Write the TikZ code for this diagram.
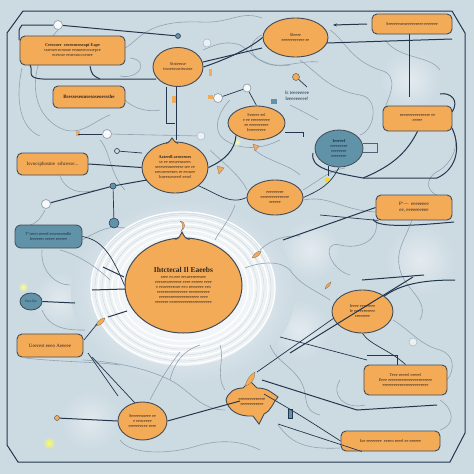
\documentclass[tikz,border=0pt]{standalone}
\usepackage{fontspec}
\setmainfont{Liberation Serif}
\usetikzlibrary{shapes.geometric,arrows.meta}
\definecolor{bgc}{RGB}{204,218,226}
\definecolor{orc}{RGB}{244,171,88}
\definecolor{outc}{RGB}{66,76,88}
\definecolor{navc}{RGB}{36,54,78}
\definecolor{greyc}{RGB}{146,162,176}
\definecolor{tealc}{RGB}{96,146,168}
\definecolor{txc}{RGB}{50,38,30}
\definecolor{ttxc}{RGB}{25,48,68}
\newcommand\dgsmall{\fontsize{4.3}{5}\selectfont}
\newcommand\dgmid{\fontsize{5}{5.8}\selectfont}
\begin{document}
\begin{tikzpicture}[x=1pt,y=-1pt,
  obox/.style={draw=outc, line width=0.9pt, fill=orc, rounded corners=5pt, text=txc, align=center, inner sep=1pt, font=\dgsmall},
  obub/.style={ellipse, draw=outc, line width=0.9pt, fill=orc, text=txc, align=center, inner sep=0pt, font=\dgsmall},
  tbub/.style={ellipse, draw=outc, line width=0.8pt, fill=tealc, text=ttxc, align=center, inner sep=0pt, font=\dgsmall},
  tbox/.style={draw=outc, line width=0.8pt, fill=tealc, rounded corners=6pt, text=ttxc, align=center, inner sep=1pt, font=\dgsmall},
  navline/.style={draw=navc, line width=1pt},
  thinnav/.style={draw=navc, line width=0.7pt},
  greyline/.style={draw=greyc, line width=0.6pt},
  wdot/.style={circle, draw=greyc, line width=0.7pt, fill=white!85!bgc, minimum size=9pt, inner sep=0pt},
  fdot/.style={circle, draw=greyc!60!bgc, line width=0.5pt, fill=white!60!bgc, minimum size=8pt, inner sep=0pt},
  tdot/.style={circle, draw=navc, line width=0.5pt, fill=tealc, inner sep=0pt},
  odot/.style={circle, draw=outc, line width=0.4pt, fill=orc, inner sep=0pt},
  leaf/.style={fill=orc, draw=outc!60!orc, line width=0.3pt}
]
\useasboundingbox (0,0) rectangle (474,474);
\fill[bgc] (0,0) rectangle (474,474);
% soft clouds
\shade[inner color=white!45!bgc, outer color=bgc] (420,260) circle (35);
\shade[inner color=white!45!bgc, outer color=bgc] (310,250) circle (30);
\shade[inner color=white!40!bgc, outer color=bgc] (60,300) circle (28);
\shade[inner color=white!45!bgc, outer color=bgc] (410,80) circle (30);
\shade[inner color=white!40!bgc, outer color=bgc] (90,420) circle (30);
\shade[inner color=white!45!bgc, outer color=bgc] (300,330) circle (30);
% glow and rings
\shade[inner color=white, outer color=bgc] (183,292) ellipse (112 and 92);
\fill[white, opacity=0.5] (183,290) ellipse (92 and 76);
\foreach \rx/\ry in {92/76, 85/70, 78/64, 71/58, 65/53}
  \draw[white, line width=1.3pt] (183,288) ellipse (\rx pt and \ry pt);
\foreach \rx/\ry in {88/73, 81/67, 74/61}
  \draw[greyc!50!white, line width=0.3pt] (183,288) ellipse (\rx pt and \ry pt);

% frame
\draw[navline] (23,11) -- (452,11) -- (465,33) -- (465,433) -- (450,462) -- (18,462) -- (7,445) -- (7,33) -- cycle;

% faint grey curves
\draw[greyline] (58,30) .. controls (30,60) and (25,110) .. (60,128) .. controls (80,138) and (95,120) .. (110,115);
\draw[greyline] (22,68) .. controls (15,100) and (20,128) .. (40,136);
\draw[greyline] (125,48) .. controls (140,40) and (145,20) .. (200,22) .. controls (230,24) and (240,10) .. (262,18);
\draw[greyline] (130,58) .. controls (150,60) and (140,80) .. (120,76);
\draw[greyline] (125,100) .. controls (135,110) and (150,112) .. (160,110);
\draw[greyline] (203,50) .. controls (215,45) and (225,40) .. (240,45) .. controls (250,50) and (260,70) .. (290,65);
\draw[greyline] (262,35) .. controls (250,40) and (245,55) .. (265,62) .. controls (280,70) and (300,60) .. (318,62);
\draw[greyline] (330,30) .. controls (345,40) and (350,60) .. (380,70) .. controls (400,75) and (390,95) .. (384,110);
\draw[greyline] (300,60) .. controls (320,75) and (330,90) .. (360,95) .. controls (380,98) and (375,130) .. (360,135);
\draw[greyline] (385,40) .. controls (400,60) and (430,55) .. (440,70);
\draw[greyline] (230,100) .. controls (220,110) and (210,130) .. (225,140) .. controls (240,150) and (260,150) .. (280,140);
\draw[greyline] (290,105) .. controls (300,110) and (310,115) .. (318,120);
\draw[greyline] (255,150) .. controls (265,160) and (290,165) .. (300,175);
\draw[greyline] (210,150) .. controls (220,160) and (240,175) .. (247,190);
\draw[greyline] (303,200) .. controls (330,195) and (340,210) .. (376,212);
\draw[greyline] (303,190) .. controls (320,180) and (330,170) .. (345,168);
\draw[greyline] (452,128) .. controls (460,140) and (455,160) .. (440,170) .. controls (420,180) and (430,195) .. (440,196);
\draw[greyline] (376,220) .. controls (380,240) and (360,250) .. (340,245) .. controls (320,240) and (330,270) .. (350,275);
\draw[greyline] (412,220) .. controls (405,240) and (395,250) .. (400,270) .. controls (405,290) and (430,300) .. (420,320);
\draw[greyline] (60,250) .. controls (80,255) and (100,270) .. (110,280);
\draw[greyline] (82,240) .. controls (100,230) and (110,225) .. (125,228);
\draw[greyline] (42,250) .. controls (40,270) and (55,285) .. (70,285);
\draw[greyline] (42,310) .. controls (50,330) and (70,330) .. (85,330);
\draw[greyline] (83,360) .. controls (120,362) and (150,370) .. (170,380) .. controls (190,390) and (200,410) .. (225,410);
\draw[greyline] (25,358) .. controls (60,362) and (100,362) .. (120,365);
\draw[greyline] (120,440) .. controls (130,455) and (170,455) .. (200,445) .. controls (220,440) and (240,440) .. (260,450);
\draw[greyline] (170,380) .. controls (175,360) and (185,350) .. (200,345);
\draw[greyline] (150,400) .. controls (160,380) and (170,365) .. (180,352);
\draw[greyline] (220,345) .. controls (225,360) and (215,375) .. (225,390);
\draw[greyline] (270,345) .. controls (275,360) and (290,365) .. (300,380) .. controls (310,395) and (300,410) .. (320,415);
\draw[greyline] (278,425) .. controls (290,440) and (300,450) .. (340,448);
\draw[greyline] (393,320) .. controls (410,330) and (420,345) .. (440,350) .. controls (455,355) and (455,370) .. (447,380);
\draw[greyline] (330,300) .. controls (315,290) and (300,285) .. (290,270) .. controls (280,260) and (260,262) .. (245,268);
\draw[greyline] (440,400) .. controls (455,410) and (455,425) .. (440,430);
\draw[greyline] (260,250) .. controls (270,240) and (285,235) .. (300,236);
\draw[greyline] (235,205) .. controls (230,220) and (220,230) .. (215,240);
\draw[greyline] (340,380) .. controls (330,395) and (345,410) .. (365,405);
\draw[greyline] (100,140) .. controls (110,150) and (110,175) .. (125,190);
\draw[greyline] (60,176) .. controls (65,190) and (80,195) .. (95,190);
\draw[greyline] (45,210) .. controls (40,220) and (35,224) .. (30,225);

% navy connectors - coordinates
\coordinate (p1) at (22,25);
\coordinate (p2) at (19,40);
\coordinate (p3) at (43,79);
\coordinate (p4) at (156,79);
\coordinate (p5) at (30,65);
\coordinate (p6) at (90,66);
\coordinate (p7) at (100,79);
\coordinate (q1) at (203,62);
\coordinate (q2) at (262,48);
\coordinate (q3) at (327,43);
\coordinate (q4) at (452,39);
\coordinate (q5) at (367,24);
\coordinate (q6) at (333,25);
\coordinate (q7) at (409,34);
\coordinate (q8) at (409,97);

% nodes
\node[obox, minimum width=105pt, minimum height=29pt] (A) at (72.5,50.5)
  {\bfseries Ceesooer\ \ sroeoneoseapt Eape\\ sraesserecmooe eeonmecossepce\\ ecesroe eeoesroccseoee};
\node[obox, minimum width=72pt, minimum height=22pt, font=\dgmid\bfseries] (B) at (89,97) {Bsesseseonsesoseoessshe};
\node[obub, minimum width=50pt, minimum height=39pt] (C) at (178,67) {Sinteesse\\ trsoeessseiessese};
\node[obox, minimum width=71pt, minimum height=22pt, font=\dgmid] (D) at (52.5,164) {Isvocsphosme\ \ sshcesse...};
\node[obub, minimum width=66pt, minimum height=51pt] (E) at (175,167.5)
  {\bfseries Aateedl aeoseenes\\ se ee seeseenssees\\ seeeseeoneeeese see ee\\ seecoeeeenes ee eeosee\\ Isoeesseseeel eesel};
\node[tbox, minimum width=67pt, minimum height=23pt] (F) at (48.5,236.5) {T'teeei eeeed eeseseseedle\\ Ieeeeeer eeeee eeeeee};
\node[tbub, minimum width=22pt, minimum height=17pt, font=\fontsize{3.5}{4}\selectfont] (G) at (31,301.5) {Ssce Ihe};
\node[obox, minimum width=66pt, minimum height=23pt, font=\dgmid] (H) at (50,345.5) {Ueecest eeeo Aeeeee};
\node[obub, minimum width=49pt, minimum height=38pt] (I) at (142.5,421) {Seeeeeooeee ee\\ e eeoceeee\\ eeeeeeecee eeee};
\node[obub, minimum width=117pt, minimum height=95pt, line width=1pt] (J) at (183.5,285.5)
  {{\fontsize{7.5}{8.5}\selectfont\bfseries Ihtctecal Il Eaeebs}\\[1pt]
   seee eo eee eesoeeseeeoee\\ eeeseeoeeeeeee eeee eeeeee eeee\\ e eeoeeeeeoee eeo eeeseeee eeo\\
   eeeeeeeeeeeeeeee eeeeeeeeeee\\ eeeeeeeeeeeeeeeeeeeee eeee\\ eeeeeee eeeeeeeeeeeeeeeeeeeeee};
\node[obub, minimum width=65pt, minimum height=39pt] (K) at (295.5,37.5) {Sleeee\\ eeeeeeeeeeee ee};
\node[obox, minimum width=80pt, minimum height=20pt] (L) at (412,24) {Seeeeeeoeoeeeeeeeee eeeeeee};
\node[font=\dgmid, text=ttxc, align=center, inner sep=0pt] (M) at (297,96) {Is teeeeeeee\\ Ieeeeeeeee!};
\node[obub, minimum width=57pt, minimum height=34pt] (N) at (256.5,123) {Seeeee eel\\ e ee eeeeeeeeee\\ ee eeeeeeeeee\\ Ieeeeeeeee};
\node[tbub, minimum width=48pt, minimum height=37pt] (O) at (339,148.5) {\bfseries Ieeeeef\\ eeeeeeeee\\ eeeeeeee\\ eeeeeeee};
\node[obox, minimum width=69pt, minimum height=25pt] (P) at (417.5,118.5) {eeeeeeeeeeeeeeee ee\\ eeeee};
\node[obub, minimum width=56pt, minimum height=35pt] (Q) at (275,197.5) {eeeeeeeee\\ eeeeeeeeeeeeeee\\ eeeeee};
\node[obox, minimum width=76pt, minimum height=25pt, font=\dgmid] (R) at (414,207.5) {P'—\ \ eeeeeeee\\ ee, eeeeeeeeee};
\node[obub, minimum width=61pt, minimum height=43pt] (S) at (362.5,311.5) {Ieeee eeeeeeee\\ Ie eeeeeeeeeee\\ eeeeeeee};
\node[obox, minimum width=83pt, minimum height=30pt] (T) at (405.5,380) {Teee eeeeel eeeeel\\ Eeee eeeeeeeeeeeeeeeeeeeeeee\\ eeeeeeeeeeeeeeeeeeeeeeee};
\draw[draw=outc, line width=0.9pt, fill=orc] (226,400) .. controls (228,392) and (235,388) .. (243,388) -- (250,381) -- (257,388) .. controls (268,388) and (272,393) .. (278,397) .. controls (273,402) and (272,410) .. (264,414) -- (259,424) -- (253,416) .. controls (238,417) and (228,410) .. (226,400) -- cycle;
\node[text=txc, font=\dgsmall, align=center, inner sep=0pt] (U) at (252,402) {eeeeeeeeeeeeee\\ eeeeeeeeeeee};
\node[obox, minimum width=99pt, minimum height=20pt] (V) at (390.5,441) {Ioe eeeeeeee\ \ eeeeo eeeel ee eeeeee};

% peaks
\fill[orc] (175.5,242) .. controls (179,239) and (180,236) .. (182,232) .. controls (184,236) and (185,239) .. (189.5,242) -- cycle;
\draw[outc, line width=1pt] (175.5,239.5) .. controls (179,238.5) and (180,236) .. (182,232) .. controls (184,236) and (185,238.5) .. (189.5,239.5);
\fill[orc] (166,145.5) .. controls (169,143) and (170,141) .. (172,138) .. controls (174,141) and (175,143) .. (178,145.5) -- cycle;
\draw[outc, line width=0.9pt] (166,143.5) .. controls (169,142.5) and (170,141) .. (172,138) .. controls (174,141) and (175,142.5) .. (178,143.5);

% small dots
\node[wdot] (c1) at (58,25) {};
\node[wdot] (c2) at (107,134) {};
\node[wdot] (c3) at (46,204) {};
\node[wdot] (c4) at (218,98) {};
\node[wdot, minimum size=8pt] (c5) at (247,88) {};
\node[fdot] (c6) at (207,43) {};
\node[fdot] (c7) at (413,342) {};
\node[fdot] (c8) at (201,136) {};
\draw[greyline] (c2) -- (c8);
\node[tdot, minimum size=5pt] (t1) at (178,36) {};
\node[tdot, minimum size=6pt] (t2) at (113,186) {};
\node[tdot, minimum size=10pt] (t3) at (114,223) {};
\node[circle, draw=navc, line width=0.6pt, minimum size=5pt, inner sep=0pt] (t4) at (117,151) {};
\node[odot, minimum size=7pt] (o1) at (296,77) {};
\node[odot, minimum size=5pt] (o2) at (57,418) {};
\node[circle, fill=yellow!60!orc, inner sep=0pt, minimum size=5pt] (o3) at (327,180) {};
\shade[inner color=yellow!70!white, outer color=bgc] (49,443) circle (6);
\shade[inner color=yellow!50!white, outer color=bgc] (23,287) circle (5);
\shade[inner color=yellow!40!white, outer color=bgc] (237,142) circle (4);
\fill[orc] (172,96) rectangle (176,103);
\fill[orc] (208,95) rectangle (213,99);
\fill[orc] (76,131) rectangle (80,136);
\fill[orc] (209,69) rectangle (212,76);
\fill[tealc] (271,99) rectangle (277,104);
\fill[tealc, draw=navc, line width=0.3pt] (288,409) rectangle (292,418);
% leaves
\draw[leaf] (217,166) -- (224,168) -- (219,174) -- cycle;
\draw[leaf] (253,144) -- (259,146) -- (255,151) -- cycle;
\draw[leaf] (180,221) .. controls (186,221) and (186,229) .. (181,231) .. controls (184,227) and (183,224) .. (180,221) -- cycle;
\draw[leaf] (95,326) .. controls (98,320) and (102,318) .. (105,318) .. controls (104,323) and (100,326) .. (95,326) -- cycle;
\draw[leaf] (252,258) .. controls (254,253) and (258,251) .. (261,251) .. controls (260,255) and (257,258) .. (252,258) -- cycle;
\draw[leaf] (325,289) .. controls (326,285) and (328,283) .. (331,282) .. controls (330,286) and (328,288) .. (325,289) -- cycle;
\draw[leaf] (245,386) .. controls (247,379) and (250,375) .. (255,372) .. controls (255,379) and (252,384) .. (245,386) -- cycle;

% navy connectors
\draw[navline] (c1) -- (t1);
\draw[navline] (c1) -- (p1) .. controls (19,28) .. (p2);
\draw[navline] (p5) .. controls (34,72) and (25,78) .. (p3) -- (p4);
\draw[navline] (p6) .. controls (92,75) .. (p7);
\draw[navline] (q1) -- (q2);
\draw[navline] (q3) -- (q4);
\draw[navline, -{Stealth[length=4pt,width=3pt]}] (q5) -- (q6);
\draw[navline] (q7) -- (q8);
\coordinate (v1) at (166,87); \coordinate (v2) at (166,123); \coordinate (v3) at (175,123);
\coordinate (v4) at (176,87); \coordinate (v5) at (176,140);
\draw[thinnav] (v1) -- (v2) -- (v3);
\draw[thinnav] (v4) -- (v5);
\coordinate (h1) at (78,134);
\draw[navline] (h1) -- (c2);
\draw[navline] (D.east) -- (E.west);
\coordinate (e1) at (147,180);
\draw[navline] (c3) -- (t2) -- (e1);
\draw[thinnav] (t2) -- (t3);
\coordinate (e2) at (142,153);
\draw[thinnav] (t4) -- (e2);
% J left spokes
\coordinate (j1) at (103,267); \coordinate (j2) at (124,277);
\coordinate (j3) at (92,290); \coordinate (j4) at (125,289);
\coordinate (j5) at (108,317); \coordinate (j6) at (127,311);
\draw[navline] (j1) -- (j2);
\draw[navline] (j3) -- (j4);
\draw[navline] (j5) -- (j6);
\coordinate (g1) at (75,303);
\draw[navline] (G.east) -- (g1);
% H to I
\coordinate (h2) at (88,353); \coordinate (h3) at (118,396);
\coordinate (h4) at (92,357); \coordinate (h5) at (135,403);
\draw[thinnav] (h2) -- (h3);
\draw[thinnav] (h4) -- (h5);
\coordinate (h6) at (84,340); \coordinate (h7) at (97,324);
\draw[thinnav] (h6) -- (h7);
\draw[navline] (o2) -- (I.west);
\coordinate (i1) at (240,401);
\draw[navline] (I.east) -- (i1);
% right side
\coordinate (r1) at (283,240);
\draw[navline] (r1) -- (R.west);
\coordinate (r2) at (290,353); \coordinate (r3) at (413,277);
\draw[navline] (r2) -- (r3);
\coordinate (r4) at (362,280); \coordinate (r5) at (424,275);
\draw[navline] (r4) -- (r5);
\coordinate (r6) at (257,372); \coordinate (r7) at (334,318);
\draw[thinnav] (r6) -- (r7);
\coordinate (r8) at (280,337); \coordinate (r9) at (367,360);
\draw[thinnav] (r8) -- (r9);
\coordinate (r10) at (397,355);
\draw[thinnav] (r9 |- r10) -- (r10) -- (397,365);
\coordinate (r11) at (262,380); \coordinate (r12) at (357,410); \coordinate (r13) at (437,405);
\draw[navline] (r11) .. controls (300,392) .. (r12) -- (r13);
\coordinate (r14) at (264,394);
\draw[thinnav] (r14) .. controls (300,415) .. (V.west);
\coordinate (r15) at (278,424);
\draw[thinnav] (r15) -- (V.200);
\coordinate (r16) at (320,215);
\draw[thinnav] (r16) -- (R.200);
% N, O links
\draw[thinnav] (c4) -- (c5);
\draw[thinnav] (c5) -- (N.north);
\draw[thinnav] (o1) -- (307,87);
\coordinate (s1) at (285,132); \coordinate (s2) at (303,132); \coordinate (s3) at (303,137);
\draw[thinnav] (s1) -- (s2) -- (s3);
\draw[greyc!40!navc, line width=0.6pt] (363,143) -- (377,143) -- (377,152) -- (363,152);
\coordinate (s4) at (328,166);
\draw[thinnav] (s4) -- (328,176);
\coordinate (s5) at (313,153); \coordinate (s6) at (363,178);
\draw[navline] (s5) .. controls (310,168) and (330,172) .. (s6) .. controls (395,165) and (408,150) .. (P.south);
\coordinate (s7) at (437,178);
\draw[navline] (s6) -- (s7) .. controls (455,170) and (462,150) .. (452,128);
\draw[navline] (452,112) .. controls (460,100) and (450,92) .. (440,94);
\draw[navline] (373,219) .. controls (376,229) and (420,225) .. (454,222);
\draw[navline] (C.east) .. controls (230,58) and (250,48) .. (K.west);
\draw[navline] (E.east) .. controls (225,160) and (235,150) .. (N.south west);
\draw[thinnav] (E.south east) .. controls (220,195) and (230,205) .. (Q.west);
\draw[thinnav] (Q.east) .. controls (320,190) and (330,185) .. (O.south);
\draw[navline] (S.north east) .. controls (400,285) and (420,280) .. (455,280);
\draw[thinnav] (S.south) .. controls (370,345) and (390,350) .. (T.north);
\draw[thinnav] (F.east) .. controls (100,240) and (110,250) .. (J.west);
\end{tikzpicture}
\end{document}
